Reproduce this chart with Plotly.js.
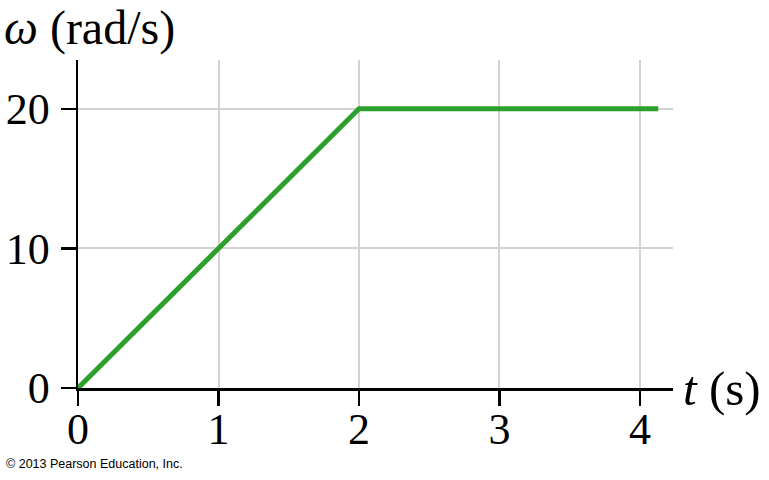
<!DOCTYPE html>
<html>
<head>
<meta charset="utf-8">
<script src="https://cdn.plot.ly/plotly-3.0.1.min.js"></script>
<style>
  html, body { margin: 0; padding: 0; background: #fff; }
  #chart { width: 769px; height: 480px; }
</style>
</head>
<body>
<div id="chart"></div>
<script>
// Angular velocity vs time
const timeS = [0, 1, 2, 3, 4, 4.13];
const omegaRadS = [0, 10, 20, 20, 20, 20];

const xTicks = [0, 1, 2, 3, 4];
const yTicks = [0, 10, 20];

const serif = '"Liberation Serif", "Times New Roman", serif';

const trace = {
    x: timeS,
    y: omegaRadS,
    type: 'scatter',
    mode: 'lines',
    line: {color: '#2ca02c', width: 5},
    hoverinfo: 'skip'
};

const layout = {
    width: 769,
    height: 480,
    paper_bgcolor: '#fff',
    plot_bgcolor: '#fff',
    margin: {l: 78, r: 96, t: 60, b: 92},
    showlegend: false,
    xaxis: {
        range: [0, 4.235],
        tickvals: xTicks,
        showgrid: true,
        gridcolor: '#d3d3d3',
        gridwidth: 2,
        zeroline: false,
        showline: true,
        linecolor: '#000',
        linewidth: 2.5,
        ticks: 'outside',
        ticklen: 15,
        tickwidth: 2.5,
        tickcolor: '#000',
        ticklabelstandoff: -14,
        tickfont: {family: serif, size: 44, color: '#000'}
    },
    yaxis: {
        range: [0, 23.5],
        tickvals: yTicks,
        showgrid: true,
        gridcolor: '#d3d3d3',
        gridwidth: 2,
        zeroline: false,
        showline: true,
        linecolor: '#000',
        linewidth: 2.5,
        ticks: 'outside',
        ticklen: 15,
        tickwidth: 2.5,
        tickcolor: '#000',
        ticklabelstandoff: 2,
        tickfont: {family: serif, size: 44, color: '#000'}
    },
    annotations: [
        {
            text: '<i>ω</i> (rad/s)',
            xref: 'paper', yref: 'paper',
            x: -78 / 595 + 3 / 595, y: 1 + 60 / 328,
            xanchor: 'left', yanchor: 'top',
            borderpad: 0,
            showarrow: false,
            font: {family: serif, size: 48, color: '#000'}
        },
        {
            text: '<i>t</i> (s)',
            xref: 'paper', yref: 'y',
            x: 1 + 8 / 595, y: 0,
            xanchor: 'left', yanchor: 'middle',
            showarrow: false,
            font: {family: serif, size: 49, color: '#000'}
        },
        {
            text: '© 2013 Pearson Education, Inc.',
            xref: 'paper', yref: 'paper',
            x: -78 / 595 + 4 / 595, y: -76 / 328,
            xanchor: 'left', yanchor: 'middle',
            showarrow: false,
            font: {family: 'Liberation Sans, Arial, sans-serif', size: 12.5, color: '#000'}
        }
    ]
};

Plotly.newPlot('chart', [trace], layout, {displayModeBar: false, staticPlot: true});
</script>
</body>
</html>
